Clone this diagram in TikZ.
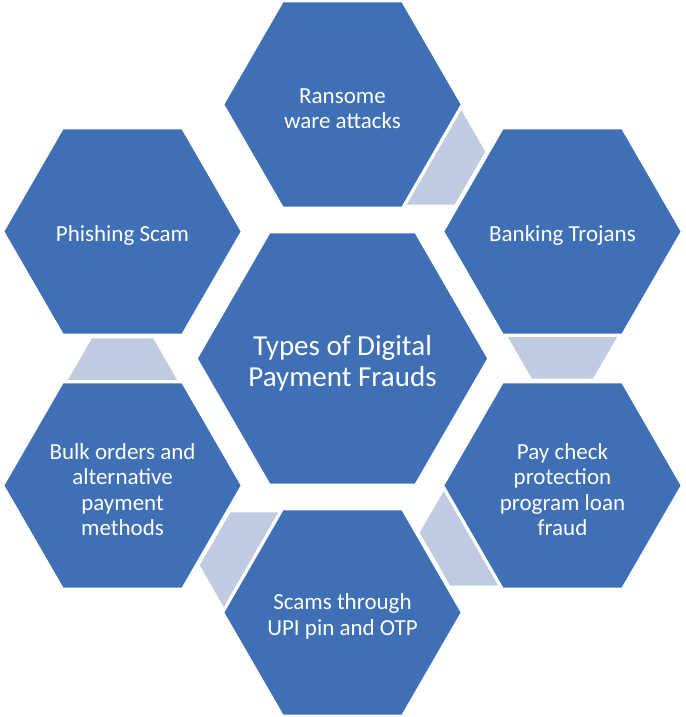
\documentclass[tikz,border=0pt]{standalone}
\usepackage{fontspec}
\setmainfont{Carlito}
\usetikzlibrary{shapes.geometric,calc}
\definecolor{hexblue}{RGB}{63,111,180}
\definecolor{linkblue}{RGB}{192,203,225}
\newcommand\linkpiece[2]{%
  \fill[linkshape] ($(#1)+(#2:105.7)+({#2+90}:54.5)$) -- ($(#1)+(#2:105.7)+({#2-90}:54.5)$)
    -- ($(#1)+(#2:147.2)+({#2-90}:30.5)$) -- ($(#1)+(#2:147.2)+({#2+90}:30.5)$) -- cycle;}
\begin{document}
\begin{tikzpicture}[x=1pt,y=1pt,
  hexbox/.style={regular polygon, regular polygon sides=6, fill=hexblue, draw=none,
    inner sep=0pt, outer sep=0pt, minimum size=236pt},
  hexcore/.style={hexbox, minimum size=289pt},
  hextext/.style={text=white, inner sep=0pt, align=center,
    font=\fontsize{23}{25.5}\selectfont},
  coretext/.style={hextext, font=\fontsize{29}{31}\selectfont},
  linkshape/.style={fill=linkblue, draw=none}]
\useasboundingbox (0,0) rectangle (685,717);
\coordinate (c) at (342.5,358.5);
\node[hexcore] (core) at (c) {};
\node[hexbox] (ransom) at ($(c)+(90:254)$) {};
\node[hexbox] (trojan) at ($(c)+(30:254)$) {};
\node[hexbox] (paycheck) at ($(c)+(-30:254)$) {};
\node[hexbox] (upi) at ($(c)+(-90:254)$) {};
\node[hexbox] (bulk) at ($(c)+(-150:254)$) {};
\node[hexbox] (phish) at ($(c)+(150:254)$) {};
\node[coretext] (coretxt) at ($(core)+(0,-5)$) {Types of Digital\\Payment Frauds};
\node[hextext] (ransomtxt) at ($(ransom)+(0,-4)$) {Ransome\\ware attacks};
\node[hextext] (trojantxt) at ($(trojan)+(0,-4)$) {Banking Trojans};
\node[hextext] (paychecktxt) at ($(paycheck)+(0,-4)$) {Pay check\\protection\\program loan\\fraud};
\node[hextext] (upitxt) at ($(upi)+(0,-4)$) {Scams through\\UPI pin and OTP};
\node[hextext] (bulktxt) at ($(bulk)+(0,-4)$) {Bulk orders and\\alternative\\payment\\methods};
\node[hextext] (phishtxt) at ($(phish)+(0,-4)$) {Phishing Scam};
\linkpiece{ransom}{-30}
\linkpiece{trojan}{-90}
\linkpiece{paycheck}{-150}
\linkpiece{upi}{150}
\linkpiece{bulk}{90}
\end{tikzpicture}
\end{document}
